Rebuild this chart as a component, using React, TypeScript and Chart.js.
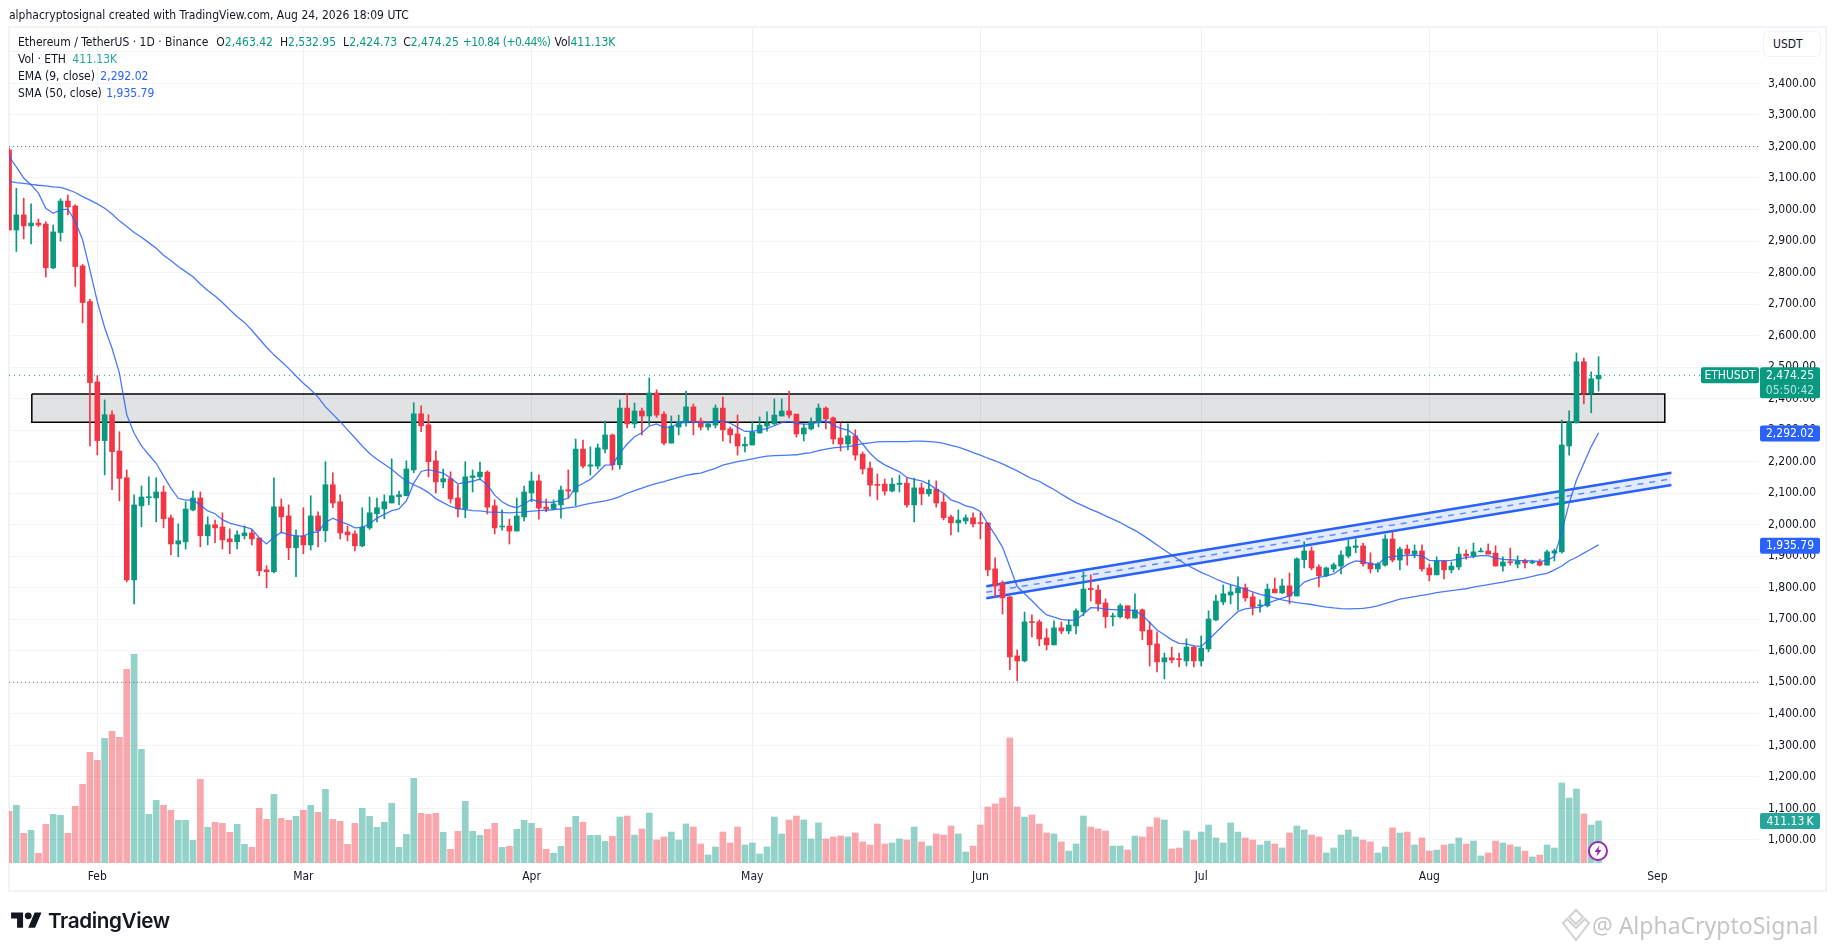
import React, { useEffect, useRef } from 'react';
import { Chart, registerables } from 'chart.js';

Chart.register(...registerables);

// one entry per daily candle, Jan 20 to Aug 24
const opens = [3189,2935,2983,2948,2957,2954,2815,2927,3027,3011,2821,2708,2453,2267,2349,2234,2149,1825,2060,2086,2085,2104,2022,1939,1946,2047,2085,1965,2000,1993,1955,1946,1965,1974,1958,1857,1851,2057,2028,1927,1965,1936,2028,1981,2127,2073,1977,1971,1933,1990,2035,2050,2069,2089,2092,2174,2352,2317,2203,2136,2146,2085,2050,2150,2152,2167,2060,1993,1996,1980,2025,2101,2139,2056,2050,2063,2111,2104,2240,2186,2186,2240,2285,2190,2370,2320,2361,2345,2418,2351,2259,2310,2323,2374,2329,2310,2316,2370,2304,2288,2250,2253,2291,2313,2320,2345,2361,2351,2288,2304,2323,2370,2339,2275,2256,2282,2224,2180,2128,2129,2107,2128,2132,2063,2117,2098,2113,2072,2025,2006,2012,2022,2007,2006,1860,1815,1771,1584,1568,1693,1692,1641,1619,1673,1663,1679,1724,1798,1793,1752,1708,1708,1743,1704,1730,1666,1622,1565,1578,1575,1568,1612,1568,1606,1698,1755,1777,1784,1800,1771,1743,1743,1796,1784,1806,1774,1889,1917,1866,1838,1860,1869,1901,1928,1933,1879,1860,1872,1955,1888,1923,1907,1917,1863,1841,1885,1857,1866,1907,1901,1914,1917,1910,1869,1883,1875,1885,1879,1882,1872,1910,1914,2250,2323,2517,2418,2463];
const highs = [3195,3067,3036,3018,2970,2961,2951,3034,3046,3015,2826,2715,2473,2396,2361,2295,2174,2095,2123,2152,2149,2123,2031,2003,2073,2107,2104,2025,2015,2038,1987,1981,1996,1984,1958,1870,2149,2082,2063,1984,2054,2092,2041,2200,2165,2095,1996,1981,2054,2088,2085,2095,2209,2107,2203,2387,2377,2349,2234,2177,2168,2127,2200,2174,2199,2171,2079,2047,2018,2085,2123,2167,2158,2082,2079,2123,2174,2272,2269,2247,2256,2329,2288,2396,2415,2386,2370,2466,2428,2358,2345,2348,2424,2383,2339,2326,2380,2405,2310,2348,2278,2326,2342,2358,2399,2399,2424,2351,2320,2339,2383,2374,2342,2323,2320,2301,2231,2199,2161,2145,2148,2158,2148,2148,2132,2142,2139,2098,2031,2047,2031,2038,2038,2006,1895,1822,1774,1603,1723,1714,1698,1670,1695,1692,1698,1733,1850,1841,1809,1765,1720,1749,1743,1781,1733,1692,1660,1593,1612,1593,1638,1616,1647,1727,1777,1809,1809,1835,1812,1784,1762,1812,1831,1828,1847,1895,1946,1930,1873,1866,1879,1917,1952,1955,1942,1911,1880,1968,1977,1929,1936,1936,1936,1876,1898,1885,1882,1929,1920,1942,1926,1939,1933,1898,1926,1901,1891,1888,1891,1920,1923,2332,2361,2545,2529,2485,2533];
const lows = [2935,2867,2907,2891,2946,2786,2812,2900,2983,2756,2640,2250,2222,2158,2111,2076,1819,1749,1993,2063,2009,1990,1904,1898,1923,2044,1930,1936,1943,1923,1908,1923,1955,1936,1838,1800,1847,1974,1889,1835,1908,1920,1930,1946,2054,1955,1949,1917,1930,1985,2009,2019,2069,2063,2092,2165,2295,2152,2101,2117,2069,2025,2022,2104,2142,2034,1971,1983,1939,1980,2012,2073,2018,2041,2047,2021,2085,2060,2180,2158,2177,2228,2174,2177,2307,2307,2285,2316,2341,2253,2259,2285,2313,2285,2301,2301,2307,2266,2259,2221,2231,2253,2291,2297,2316,2345,2339,2278,2266,2301,2310,2304,2256,2234,2237,2205,2161,2091,2079,2094,2104,2104,2056,2009,2063,2091,2056,2015,1968,1977,2003,1993,1955,1838,1771,1717,1540,1505,1565,1644,1616,1603,1619,1654,1654,1654,1711,1758,1727,1673,1679,1704,1701,1704,1635,1552,1533,1511,1562,1549,1552,1549,1552,1597,1695,1746,1749,1730,1758,1714,1723,1739,1784,1781,1749,1774,1863,1857,1803,1835,1850,1844,1895,1911,1869,1847,1850,1869,1882,1857,1872,1895,1853,1822,1841,1828,1847,1857,1891,1895,1914,1907,1869,1853,1872,1863,1863,1876,1869,1872,1885,1910,2221,2323,2383,2355,2424];
const closes = [2935,2983,2948,2957,2951,2815,2929,3027,3008,2819,2705,2451,2267,2349,2232,2147,1825,2063,2088,2089,2104,2019,1939,1949,2050,2085,1965,2000,1990,1952,1946,1968,1974,1955,1854,1851,2057,2025,1927,1965,1936,2028,1981,2127,2069,1974,1968,1933,1993,2038,2054,2073,2092,2095,2177,2352,2314,2200,2136,2146,2082,2050,2152,2155,2167,2056,1990,1996,1980,2028,2104,2139,2053,2050,2066,2110,2107,2240,2186,2190,2244,2285,2190,2370,2320,2361,2345,2418,2348,2259,2313,2326,2374,2326,2310,2320,2370,2301,2285,2250,2255,2294,2316,2323,2348,2361,2348,2288,2307,2326,2370,2336,2272,2256,2282,2221,2177,2126,2125,2107,2129,2132,2063,2117,2098,2113,2069,2022,2006,2015,2022,2003,2004,1857,1806,1768,1581,1568,1692,1690,1638,1619,1673,1663,1682,1727,1796,1794,1749,1708,1711,1743,1704,1730,1663,1619,1565,1578,1571,1572,1612,1568,1609,1701,1758,1781,1787,1800,1768,1739,1746,1796,1784,1806,1774,1892,1917,1863,1838,1863,1873,1904,1930,1933,1876,1860,1876,1955,1888,1923,1907,1917,1860,1841,1885,1857,1869,1907,1901,1914,1917,1907,1869,1882,1880,1885,1879,1882,1872,1914,1917,2253,2326,2517,2418,2463,2474];
const volumes = [506,565,290,320,95,379,476,467,290,555,770,1083,1005,1220,1289,1230,1896,2043,1113,476,613,565,516,418,418,222,819,349,398,388,300,379,183,153,535,427,672,437,418,457,516,565,496,721,427,408,183,388,535,457,349,398,584,153,281,829,486,476,486,300,134,310,604,310,271,330,388,153,163,330,418,388,339,134,95,163,349,457,398,271,271,212,261,450,460,274,333,489,225,255,303,225,382,352,186,78,157,303,196,352,176,196,88,157,450,284,421,460,421,235,392,235,255,264,255,294,206,176,382,186,196,235,225,352,206,166,284,274,362,284,108,166,372,548,578,636,1224,548,450,470,382,294,284,206,117,186,460,352,333,313,166,166,127,264,255,352,441,421,137,147,313,225,303,372,245,196,392,303,245,225,176,215,186,147,294,362,323,274,255,98,147,274,323,255,225,206,98,157,343,294,303,176,245,117,127,176,186,245,186,215,69,98,215,196,176,157,117,59,78,176,147,783,636,724,480,372,411];
const ema9 = [3168,3135,3100,3078,3052,3004,2988,2999,3001,2962,2904,2808,2708,2625,2560,2481,2349,2290,2250,2222,2195,2155,2116,2084,2078,2079,2063,2044,2035,2016,2005,1999,1993,1986,1959,1939,1960,1976,1969,1965,1964,1975,1977,2007,2021,2010,2002,1990,1992,2003,2021,2033,2045,2050,2076,2132,2169,2175,2169,2164,2148,2130,2134,2138,2145,2126,2094,2073,2060,2054,2066,2080,2073,2072,2071,2078,2084,2119,2131,2144,2166,2189,2190,2227,2256,2279,2292,2313,2320,2309,2310,2322,2326,2326,2324,2324,2329,2329,2322,2309,2296,2296,2301,2305,2314,2324,2327,2322,2319,2319,2326,2329,2316,2306,2300,2283,2256,2227,2205,2190,2179,2168,2150,2144,2139,2129,2113,2100,2079,2071,2060,2054,2042,2003,1968,1929,1867,1804,1781,1759,1735,1714,1707,1700,1697,1698,1717,1737,1736,1732,1731,1730,1730,1727,1714,1690,1666,1651,1635,1624,1622,1616,1614,1635,1658,1681,1703,1725,1733,1736,1738,1751,1759,1767,1774,1795,1818,1827,1833,1838,1844,1860,1876,1885,1883,1876,1873,1896,1899,1901,1903,1904,1901,1887,1886,1886,1887,1891,1896,1899,1902,1902,1894,1890,1889,1887,1886,1885,1884,1887,1899,1978,2068,2142,2195,2248,2292];
const sma50 = [3089,3085,3083,3080,3077,3075,3072,3070,3063,3054,3041,3030,3018,3004,2986,2964,2946,2927,2912,2895,2877,2855,2838,2819,2803,2787,2764,2743,2726,2705,2682,2660,2642,2617,2590,2563,2539,2518,2496,2472,2449,2428,2405,2374,2351,2327,2301,2276,2250,2226,2208,2192,2176,2156,2139,2127,2116,2102,2083,2070,2058,2051,2048,2045,2044,2041,2039,2039,2038,2039,2040,2043,2045,2046,2048,2050,2054,2057,2063,2068,2072,2076,2081,2089,2100,2108,2116,2124,2131,2137,2144,2150,2157,2161,2164,2172,2179,2189,2195,2200,2204,2209,2214,2218,2219,2220,2221,2222,2226,2229,2235,2240,2244,2246,2248,2252,2257,2260,2263,2264,2264,2264,2264,2265,2265,2264,2262,2258,2252,2246,2238,2229,2221,2211,2203,2193,2182,2171,2158,2146,2138,2124,2112,2097,2083,2070,2060,2049,2039,2028,2018,2007,1994,1982,1968,1952,1936,1920,1904,1888,1873,1861,1849,1839,1828,1818,1810,1804,1795,1787,1779,1774,1768,1762,1757,1753,1750,1747,1743,1739,1736,1734,1733,1734,1735,1738,1743,1750,1757,1764,1768,1772,1776,1780,1785,1788,1791,1794,1797,1802,1806,1810,1814,1818,1823,1827,1831,1836,1842,1846,1857,1869,1886,1897,1910,1923,1936];

const monthNames = ['Feb', 'Mar', 'Apr', 'May', 'Jun', 'Jul', 'Aug', 'Sep'];
const monthIndex = [12, 40, 71, 101, 132, 162, 193, 224];

// drawings on the chart, as [candle index, price]
const zoneBox = [[3.1, 2415], [225, 2415], [225, 2325], [3.1, 2325], [3.1, 2415]];
const channelUpper = [[132.8, 1805], [225.9, 2165]];
const channelLower = [[132.8, 1767], [225.9, 2126]];
const channelMid = [[132.8, 1786], [225.9, 2145.5]];
const levelHigh = 3200;
const levelLow = 1500;
const lastPrice = 2474.25;
const lastEma = 2292.02;
const lastSma = 1935.79;
const lastVolume = 411.13;

const UP = '#089981';
const DOWN = '#f23645';
const BLUE = '#2962ff';
const FONT = "'DejaVu Sans Condensed', 'DejaVu Sans', sans-serif";
const X_MAX = 237.8;

const toPoints = (pairs: number[][]) => pairs.map(([x, y]) => ({ x, y }));
const flat = (y: number) => [{ x: 0, y }, { x: X_MAX, y }];
const fmt = (v: number) => v.toLocaleString('en-US', { minimumFractionDigits: 2, maximumFractionDigits: 2 });

const tagPlugin = {
  id: 'priceTags',
  afterDraw(chart: any) {
    const { ctx, scales } = chart;
    const tag = (y: number, h: number, color: string) => {
      ctx.fillStyle = color;
      ctx.beginPath();
      ctx.roundRect(1760, y, 60, h, 2);
      ctx.fill();
    };
    ctx.save();
    ctx.font = `12px ${FONT}`;
    ctx.textBaseline = 'middle';
    ctx.textAlign = 'center';

    const py = scales.y.getPixelForValue(lastPrice);
    ctx.fillStyle = UP;
    ctx.beginPath();
    ctx.roundRect(1701, py - 8, 58, 16, 2);
    ctx.fill();
    tag(py - 8, 31, UP);
    ctx.fillStyle = '#fff';
    ctx.fillText('ETHUSDT', 1730, py + 0.5);
    ctx.fillText(fmt(lastPrice), 1790, py + 0.5);
    ctx.fillStyle = 'rgba(255,255,255,0.72)';
    ctx.fillText('05:50:42', 1790, py + 15.5);

    for (const v of [lastEma, lastSma]) {
      const y = scales.y.getPixelForValue(v) + 0.7;
      tag(y - 8, 16, BLUE);
      ctx.fillStyle = '#fff';
      ctx.fillText(fmt(v), 1790, y + 0.5);
    }

    const vy = scales.yVol.getPixelForValue(lastVolume);
    tag(vy - 8, 16, '#26a69a');
    ctx.fillStyle = '#fff';
    ctx.fillText('411.13\u2009K', 1790, vy + 0.5);
    ctx.restore();
  },
};

const textStyle = (left: number, top: number, extra: React.CSSProperties = {}): React.CSSProperties => ({
  position: 'absolute',
  left,
  top,
  font: `12px ${FONT}`,
  lineHeight: '16px',
  color: '#131722',
  whiteSpace: 'nowrap',
  ...extra,
});

const Val: React.FC<{ c?: string; children: React.ReactNode }> = ({ c = UP, children }) => (
  <span style={{ color: c }}>{children}</span>
);

const App: React.FC = () => {
  const chartRef = useRef<HTMLCanvasElement>(null);
  const chartInstanceRef = useRef<Chart | null>(null);

  useEffect(() => {
    if (!chartRef.current) return;
    const ctx = chartRef.current.getContext('2d');
    if (!ctx) return;

    const barColors = opens.map((o, i) => (closes[i] >= o ? UP : DOWN));
    const volColors = opens.map((o, i) => (closes[i] >= o ? 'rgba(8,153,129,0.44)' : 'rgba(242,54,69,0.44)'));
    const thin = { pointRadius: 0, tension: 0, fill: false };

    chartInstanceRef.current = new Chart(ctx, {
      type: 'bar',
      data: {
        datasets: [
          {
            label: 'Vol',
            yAxisID: 'yVol',
            data: volumes.map((y, x) => ({ x, y })),
            backgroundColor: volColors,
            barThickness: 6,
            grouped: false,
            order: 10,
          },
          {
            type: 'line',
            label: 'Zone',
            data: toPoints(zoneBox),
            borderColor: '#000',
            borderWidth: 1.5,
            backgroundColor: 'rgba(120,123,134,0.22)',
            pointRadius: 0,
            tension: 0,
            fill: 'shape',
            order: 9,
          },
          { type: 'line', label: 'High', data: flat(levelHigh), borderColor: '#787b86', borderWidth: 1, borderDash: [1, 3], ...thin, order: 8 },
          { type: 'line', label: 'Low', data: flat(levelLow), borderColor: '#787b86', borderWidth: 1, borderDash: [1, 3], ...thin, order: 8 },
          { type: 'line', label: 'Last', data: flat(lastPrice), borderColor: UP, borderWidth: 1, borderDash: [1, 4], ...thin, order: 8 },
          {
            type: 'line',
            label: 'Channel top',
            data: toPoints(channelUpper),
            borderColor: BLUE,
            borderWidth: 2.5,
            backgroundColor: 'rgba(41,98,255,0.13)',
            pointRadius: 0,
            tension: 0,
            fill: '+1',
            order: 7,
          },
          { type: 'line', label: 'Channel bottom', data: toPoints(channelLower), borderColor: BLUE, borderWidth: 2.5, ...thin, order: 7 },
          { type: 'line', label: 'Channel mid', data: toPoints(channelMid), borderColor: 'rgba(41,98,255,0.7)', borderWidth: 1.5, borderDash: [6, 6], ...thin, order: 7 },
          {
            label: 'Wicks',
            data: lows.map((l, x) => ({ x, y: [l, highs[x]] })),
            backgroundColor: barColors,
            barThickness: 1,
            grouped: false,
            order: 4,
          },
          {
            label: 'Bodies',
            data: opens.map((o, x) => ({ x, y: [o, closes[x]] })),
            backgroundColor: barColors,
            barThickness: 5,
            grouped: false,
            order: 3,
          },
          { type: 'line', label: 'EMA 9', data: ema9.map((y, x) => ({ x, y })), borderColor: 'rgba(41,98,255,0.85)', borderWidth: 1.3, ...thin, order: 1 },
          { type: 'line', label: 'SMA 50', data: sma50.map((y, x) => ({ x, y })), borderColor: 'rgba(41,98,255,0.85)', borderWidth: 1.3, ...thin, order: 1 },
        ],
      } as any,
      options: {
        animation: false,
        responsive: false,
        events: [],
        layout: { padding: { left: 9, top: 27, right: 0, bottom: 0 } },
        plugins: { legend: { display: false }, tooltip: { enabled: false } },
        scales: {
          x: {
            type: 'linear',
            offset: false,
            min: 0,
            max: X_MAX,
            border: { display: false },
            grid: { color: '#eff0f3', drawTicks: false, offset: false },
            afterBuildTicks: (scale: any) => {
              scale.ticks = monthIndex.map((value) => ({ value }));
            },
            afterFit: (scale: any) => {
              scale.height = 88;
            },
            ticks: {
              autoSkip: false,
              maxRotation: 0,
              padding: 7,
              color: '#131722',
              font: { family: FONT, size: 12 },
              callback: (v: any) => monthNames[monthIndex.indexOf(v)],
            },
          },
          y: {
            position: 'right',
            min: 927,
            max: 3579,
            border: { display: false },
            grid: { color: '#f3f4f6', drawTicks: false },
            afterFit: (scale: any) => {
              scale.width = 76;
            },
            ticks: {
              stepSize: 100,
              includeBounds: false,
              autoSkip: false,
              padding: 9,
              color: '#131722',
              font: { family: FONT, size: 12 },
              callback: (v: any) => (v === 3500 ? '' : fmt(v)),
            },
          },
          yVol: { display: false, min: 0, max: 8184 },
        },
      } as any,
      plugins: [tagPlugin],
    });

    return () => {
      if (chartInstanceRef.current) {
        chartInstanceRef.current.destroy();
      }
    };
  }, []);

  return (
    <div style={{ position: 'absolute', left: 0, top: 0, width: 1835, height: 951, background: '#fff', overflow: 'hidden' }}>
      <div style={{ position: 'absolute', left: 8, top: 26, width: 1815, height: 862, border: '2px solid #f2f3f6' }} />
      <canvas ref={chartRef} width={1835} height={951} style={{ position: 'absolute', left: 0, top: 0 }} />

      <div style={textStyle(9, 7)}>alphacryptosignal created with TradingView.com, Aug 24, 2026 18:09 UTC</div>
      <div style={textStyle(18, 34)}>
        Ethereum / TetherUS · 1D · Binance
        <span style={{ marginLeft: 8 }}>O<Val>2,463.42</Val></span>
        <span style={{ marginLeft: 7 }}>H<Val>2,532.95</Val></span>
        <span style={{ marginLeft: 7 }}>L<Val>2,424.73</Val></span>
        <span style={{ marginLeft: 6 }}>C<Val>2,474.25</Val></span>
        <span style={{ marginLeft: 4, letterSpacing: '-0.5px' }}><Val>+10.84 (+0.44%)</Val></span>
        <span style={{ marginLeft: 4 }}>Vol<Val>411.13K</Val></span>
      </div>
      <div style={textStyle(18, 51)}>Vol · ETH <span style={{ marginLeft: 3 }}><Val c="#26a69a">411.13K</Val></span></div>
      <div style={textStyle(18, 68)}>EMA (9, close) <span style={{ marginLeft: 2 }}><Val c={BLUE}>2,292.02</Val></span></div>
      <div style={textStyle(18, 85)}>SMA (50, close) <span style={{ marginLeft: 1 }}><Val c={BLUE}>1,935.79</Val></span></div>

      <div
        style={textStyle(1763, 31, {
          width: 58,
          height: 26,
          lineHeight: '25px',
          border: '1px solid #f0f3fa',
          borderRadius: 5,
          textAlign: 'left',
          paddingLeft: 9,
          boxSizing: 'border-box',
          background: '#fff',
        })}
      >
        USDT
      </div>

      <svg style={{ position: 'absolute', left: 1587, top: 840 }} width="22" height="22" viewBox="0 0 22 22">
        <circle cx="11" cy="11" r="9" fill="#fff" stroke="#9c27b0" strokeWidth="2" />
        <path d="M12.5 5.5 L7.5 12 H10.5 L9.5 16.5 L14.5 10 H11.5 Z" fill="#9c27b0" />
      </svg>

      <svg style={{ position: 'absolute', left: 11, top: 909 }} width="31" height="24" viewBox="0 0 36 28">
        <path d="M14 22H7V11H0V4h14v18zM28 22h-8l7.5-18h8L28 22z" fill="#131722" />
        <circle cx="20" cy="8" r="4" fill="#131722" />
      </svg>
      <div style={textStyle(48, 908, { font: "600 20.7px Inter, sans-serif", lineHeight: '26px', letterSpacing: '-0.4px' })}>TradingView</div>

      <svg style={{ position: 'absolute', left: 1561, top: 908 }} width="30" height="34" viewBox="0 0 30 34">
        <g fill="none" stroke="#d2d2d2" strokeWidth="2">
          <path d="M15 2 L22 9 L15 16 L8 9 Z" />
          <path d="M6 11 L13 18 L15 20 L17 18 L24 11 L28 15 L15 32 L2 15 Z" />
        </g>
      </svg>
      <div style={textStyle(1592, 909, { font: "23px 'Noto Sans', sans-serif", lineHeight: '32px', color: '#c6c6c6' })}>@ AlphaCryptoSignal</div>
    </div>
  );
};

export default App;
